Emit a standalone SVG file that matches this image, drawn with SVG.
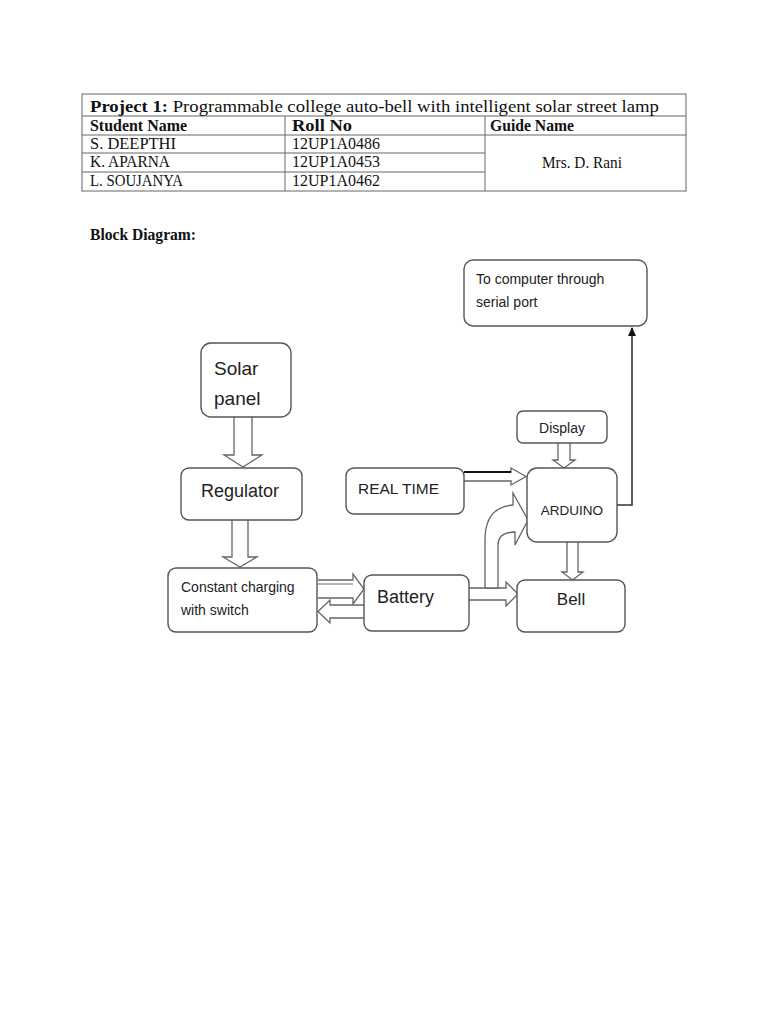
<svg xmlns="http://www.w3.org/2000/svg" width="768" height="1024" viewBox="0 0 768 1024">
<defs>
<style>
.tb{font-family:"Liberation Serif",serif;font-size:16.5px;fill:#111}
.b{font-weight:bold}
.box{fill:#fff;stroke:#555;stroke-width:1.4}
.lbl{font-family:"Liberation Sans",Arial,sans-serif;fill:#222}
.ar{fill:#fff;stroke:#666;stroke-width:1.3;stroke-linejoin:miter}
.tl{stroke:#666;stroke-width:1;fill:none}
</style>
<marker id="ah" markerWidth="10" markerHeight="10" refX="8" refY="5" orient="auto" markerUnits="userSpaceOnUse">
<path d="M0,1 L9,5 L0,9 Z" fill="#111"/>
</marker>
</defs>
<rect width="768" height="1024" fill="#fff"/>

<g id="table">
<rect x="82" y="94" width="604" height="97" class="tl"/>
<line x1="82" y1="116" x2="686" y2="116" class="tl"/>
<line x1="82" y1="135" x2="686" y2="135" class="tl"/>
<line x1="82" y1="153" x2="485" y2="153" class="tl"/>
<line x1="82" y1="172" x2="485" y2="172" class="tl"/>
<line x1="285" y1="116" x2="285" y2="191" class="tl"/>
<line x1="485" y1="116" x2="485" y2="191" class="tl"/>
<text class="tb" x="90" y="112" font-size="19" textLength="569" lengthAdjust="spacingAndGlyphs"><tspan class="b">Project 1:</tspan> Programmable college auto-bell with intelligent solar street lamp</text>
<text class="tb b" x="90" y="131" textLength="97" lengthAdjust="spacingAndGlyphs">Student Name</text>
<text class="tb b" x="292" y="131" textLength="60" lengthAdjust="spacingAndGlyphs">Roll No</text>
<text class="tb b" x="490" y="131" textLength="84" lengthAdjust="spacingAndGlyphs">Guide Name</text>
<text class="tb" x="90" y="149" textLength="86" lengthAdjust="spacingAndGlyphs">S. DEEPTHI</text>
<text class="tb" x="90" y="167" textLength="80" lengthAdjust="spacingAndGlyphs">K. APARNA</text>
<text class="tb" x="90" y="186" textLength="93" lengthAdjust="spacingAndGlyphs">L. SOUJANYA</text>
<text class="tb" x="292" y="149" textLength="88" lengthAdjust="spacingAndGlyphs">12UP1A0486</text>
<text class="tb" x="292" y="167" textLength="88" lengthAdjust="spacingAndGlyphs">12UP1A0453</text>
<text class="tb" x="292" y="186" textLength="88" lengthAdjust="spacingAndGlyphs">12UP1A0462</text>
<text class="tb" x="542" y="168" textLength="80" lengthAdjust="spacingAndGlyphs">Mrs. D. Rani</text>
</g>

<text class="tb b" x="90" y="240" textLength="106" lengthAdjust="spacingAndGlyphs">Block Diagram:</text>

<g id="connectors">
<path class="ar" d="M234,417 V455 H224 L243,467 L262,455 H252 V417"/>
<path class="ar" d="M232,520 V557 H223 L240,567 L257,557 H248 V520"/>
<path class="ar" d="M318,580 H353 V574 L364,589 L353,604 V598 H318"/>
<line x1="318" y1="584" x2="353" y2="584" stroke="#666" stroke-width="1"/>
<path class="ar" d="M364,605 H330 V600 L318,611.5 L330,623 V618 H364"/>
<path class="ar" d="M469,588 H506 V582 L518,594 L506,606 V600 H469"/>
<path class="ar" d="M485,588 V540 Q485,507 513,505 V493 L528,520 L515,545 V532 Q498,532 498,545 V588 Z"/>
<path class="ar" d="M464,472 H511 V468 L526,476.5 L511,485 V481 H464"/>
<line x1="464" y1="472" x2="511" y2="472" stroke="#111" stroke-width="2.2"/>
<path class="ar" d="M558,443 V460 H553 L564,468 L575,460 H570 V443"/>
<path class="ar" d="M567,542 V572 H562 L572.5,580 L583,572 H578 V542"/>
<polyline points="617,505 632,505 632,328" fill="none" stroke="#333" stroke-width="1.6" marker-end="url(#ah)"/>
</g>

<g id="computer">
<rect class="box" x="464" y="260" width="183" height="66" rx="9"/>
<text class="lbl" x="476" y="284" font-size="14">To computer  through</text>
<text class="lbl" x="476" y="307" font-size="14">serial port</text>
</g>
<g id="solar">
<rect class="box" x="201" y="343" width="90" height="74" rx="10"/>
<text class="lbl" x="214" y="375" font-size="19">Solar</text>
<text class="lbl" x="214" y="405" font-size="19">panel</text>
</g>
<g id="regulator">
<rect class="box" x="181" y="468" width="121" height="52" rx="8"/>
<text class="lbl" x="240" y="497" font-size="18" text-anchor="middle">Regulator</text>
</g>
<g id="charging">
<rect class="box" x="168" y="568" width="149" height="64" rx="8"/>
<text class="lbl" x="181" y="592" font-size="14">Constant charging</text>
<text class="lbl" x="181" y="615" font-size="14">with switch</text>
</g>
<g id="battery">
<rect class="box" x="364" y="575" width="105" height="56" rx="8"/>
<text class="lbl" x="377" y="603" font-size="18">Battery</text>
</g>
<g id="realtime">
<rect class="box" x="346" y="468" width="118" height="46" rx="8"/>
<text class="lbl" x="358" y="494" font-size="15.5">REAL TIME</text>
</g>
<g id="display">
<rect class="box" x="517" y="411" width="90" height="32" rx="6"/>
<text class="lbl" x="562" y="433" font-size="14" text-anchor="middle">Display</text>
</g>
<g id="arduino">
<rect class="box" x="527" y="468" width="90" height="74" rx="10"/>
<text class="lbl" x="572" y="515" font-size="13.5" text-anchor="middle">ARDUINO</text>
</g>
<g id="bell">
<rect class="box" x="517" y="580" width="108" height="52" rx="8"/>
<text class="lbl" x="571" y="605" font-size="17" text-anchor="middle">Bell</text>
</g>
</svg>
